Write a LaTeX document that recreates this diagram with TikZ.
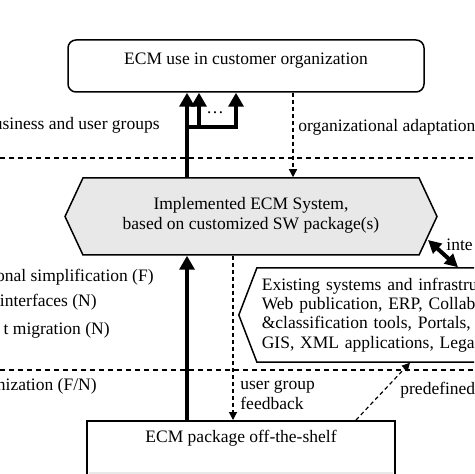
\documentclass[tikz,border=0pt]{standalone}
\usepackage{fontspec}
\setmainfont{Liberation Serif}
\usepackage{xcolor}
\usetikzlibrary{positioning}
\usetikzlibrary{arrows.meta}
\usetikzlibrary{shapes.symbols}
\definecolor{hexgray}{RGB}{232,232,232}
\tikzset{
	box/.style={draw, line width=0.75pt, inner sep=0pt},
	fat/.style={line width=2.2pt, -{Triangle[length=7pt,width=7.5pt]}},
	fatboth/.style={line width=2pt, {Triangle[length=6.5pt,width=6.5pt]}-{Triangle[length=6.5pt,width=6.5pt]}},
	dasharrow/.style={line width=0.6pt, dash pattern=on 2pt off 1.5pt, -{Triangle[length=4pt,width=4pt]}},
	divider/.style={line width=0.6pt, dash pattern=on 2.5pt off 2pt},
	note/.style={inner sep=0pt}
}

\begin{document}
\begin{tikzpicture}[x=0.5pt, y=-0.5pt, every node/.style={font=\fontsize{8.75}{10}\selectfont}]
	\useasboundingbox (0,0) rectangle (474,474);
	\clip (0,0) rectangle (474,474);
	% layer borders
	\draw[divider] (0,158) -- (474,158);
	\draw[divider] (0,370) -- (474,370);
	% boxes
	\node[box, rounded corners=4pt, minimum width=178pt, minimum height=26pt, text height=6pt, text depth=7pt] (use) at (246,66) {ECM use in customer organization};
	\node[box, signal, signal to=west and east, signal pointer angle=130, fill=hexgray, minimum width=186pt, minimum height=38.5pt, align=center, text depth=3pt] (hex) at (251,216.5) {Implemented ECM System,\\based on customized SW package(s)};
	\node[box, signal, signal to=west, signal pointer angle=138, minimum width=150pt, minimum height=47pt, text width=136pt, align=left, anchor=west, font=\fontsize{8.75}{9.7}\selectfont] (ext) at (238,315) {Existing systems and infrastru\\Web publication, ERP, Collab\\\&classification tools, Portals,\\GIS, XML applications, Lega};
	\node[box, anchor=north, minimum width=154pt, text height=11pt, text depth=30pt] (pkg) at (241,420) {ECM package off-the-shelf};
	\fill[hexgray] (89,472) rectangle (393,474);
	% helper points
	\coordinate (stem) at (187,127);
	\coordinate (fork) at (199,0);
	\coordinate (forkend) at (236,0);
	\coordinate (adapt) at (293,0);
	\coordinate (fb) at (233,0);
	\coordinate (pre) at (356,0);
	\coordinate (preend) at (410,0);
	\coordinate (intA) at (428,240);
	\coordinate (intB) at (458,0);
	% connectors
	\draw[fat] (pkg.north -| stem) -- (hex.south -| stem);
	\draw[fat] (hex.north -| stem) -- (use.south -| stem);
	\draw[fat] (stem) -| (use.south -| forkend);
	\draw[fat] (stem -| fork) -- (use.south -| fork);
	\node (dots) at (215,113) {\dots};
	\draw[dasharrow] (use.south -| adapt) -- (hex.north -| adapt);
	\draw[dasharrow] (hex.south -| fb) -- (pkg.north -| fb);
	\draw[dasharrow] (pkg.north -| pre) -- (ext.south -| preend);
	\draw[fatboth] (intA) -- (ext.north -| intB);
	% labels
	\node[note, anchor=east] (biz) at (160,125) {usiness and user groups};
	\node[note, anchor=west] (orgad) at (298,127) {organizational adaptation};
	\node[note, anchor=west] (integ) at (446,245) {inte};
	\node[note, anchor=east] (simpl) at (154,277) {onal simplification (F)};
	\node[note, anchor=east] (intf) at (97,302) {interfaces (N)};
	\node[note, anchor=east] (migr) at (110,330) {t migration (N)};
	\node[note, anchor=east] (reorg) at (97,386) {nization (F/N)};
	\node[note, anchor=west, align=left] (fblbl) at (240,395) {user group\\feedback};
	\node[note, anchor=west] (predef) at (400,390) {predefined};
\end{tikzpicture}
\end{document}
